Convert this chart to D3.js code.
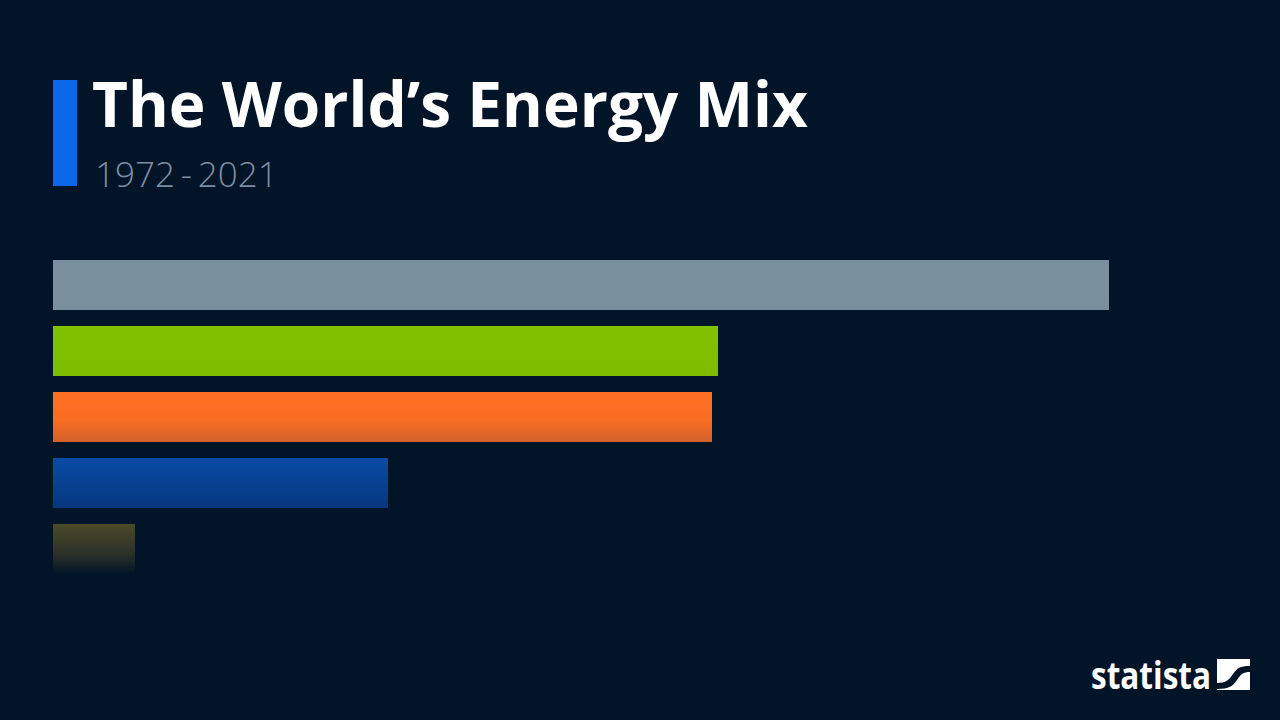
<!DOCTYPE html>
<html><head><meta charset="utf-8">
<script src="https://cdn.jsdelivr.net/npm/d3@7"></script>
<style>
html,body{margin:0;padding:0;background:#011428;}
svg{display:block;}
</style></head>
<body>
<svg id="chart" width="1280" height="720"></svg>
<script>
const categories = ["Oil", "Coal", "Natural gas", "Hydro", "Nuclear"];
const values = [105.6, 66.5, 65.9, 33.5, 8.2];
const title = "The World\u2019s Energy Mix";
const subtitle = "1972\u2009-\u20092021";

const svg = d3.select("#chart");
const W = 1280, H = 720;
svg.append("rect").attr("width", W).attr("height", H).attr("fill", "#011428");

const defs = svg.append("defs");
const grads = [
  {id:"g0", stops:[["0%","#7b909e",1],["100%","#7a8f9d",1]]},
  {id:"g1", stops:[["0%","#80c100",1],["100%","#7cbd00",1]]},
  {id:"g2", stops:[["0%","#ff6e22",1],["55%","#f86d23",1],["100%","#d3602b",1]]},
  {id:"g3", stops:[["0%","#0a4ba6",1],["100%","#06377e",1]]},
  {id:"g4", stops:[["0%","#4b4a2a",1],["60%","#2c3028",1],["100%","#011428",1]]}
];
grads.forEach(g => {
  const lg = defs.append("linearGradient").attr("id", g.id)
    .attr("x1", 0).attr("y1", 0).attr("x2", 0).attr("y2", 1);
  g.stops.forEach(s => lg.append("stop").attr("offset", s[0]).attr("stop-color", s[1]).attr("stop-opacity", s[2]));
});

// Title block
svg.append("rect").attr("x", 53).attr("y", 80).attr("width", 24).attr("height", 106).attr("fill", "#0b68e9");
svg.append("text").attr("x", 92).attr("y", 127).text(title)
  .attr("fill", "#ffffff").attr("font-family", "Open Sans").attr("font-weight", 700)
  .attr("font-size", 62).attr("textLength", 716).attr("lengthAdjust", "spacingAndGlyphs");
svg.append("text").attr("x", 95).attr("y", 187).text(subtitle)
  .attr("fill", "#7b8fa3").attr("font-family", "Open Sans").attr("font-weight", 300)
  .attr("font-size", 35);

// Bars
const x = d3.scaleLinear().domain([0, d3.max(values)]).range([53, 1109]);
const y = d3.scaleBand().domain(categories).range([260, 574]).paddingInner(16 / 66).paddingOuter(0);

svg.append("g").selectAll("rect").data(categories).join("rect")
  .attr("x", x(0))
  .attr("y", d => y(d))
  .attr("width", (d, i) => x(values[i]) - x(0))
  .attr("height", y.bandwidth())
  .attr("fill", (d, i) => `url(#g${i})`);

// statista logo
const logo = svg.append("g");
logo.append("text").attr("x", 1091).attr("y", 689).text("statista")
  .attr("fill", "#ffffff").attr("font-family", "Open Sans").attr("font-weight", 700)
  .attr("font-size", 37).attr("textLength", 120).attr("lengthAdjust", "spacingAndGlyphs");
logo.append("rect").attr("x", 1217).attr("y", 659).attr("width", 33).attr("height", 31).attr("fill", "#ffffff");
logo.append("path")
  .attr("d", "M1217,683 C1226,683 1229,680 1233,674 C1237,668 1240,666 1250,666 L1250,672 C1243,672 1241,674 1237,680 C1233,686 1229,689 1217,689 Z")
  .attr("fill", "#011428");
</script>
</body></html>
